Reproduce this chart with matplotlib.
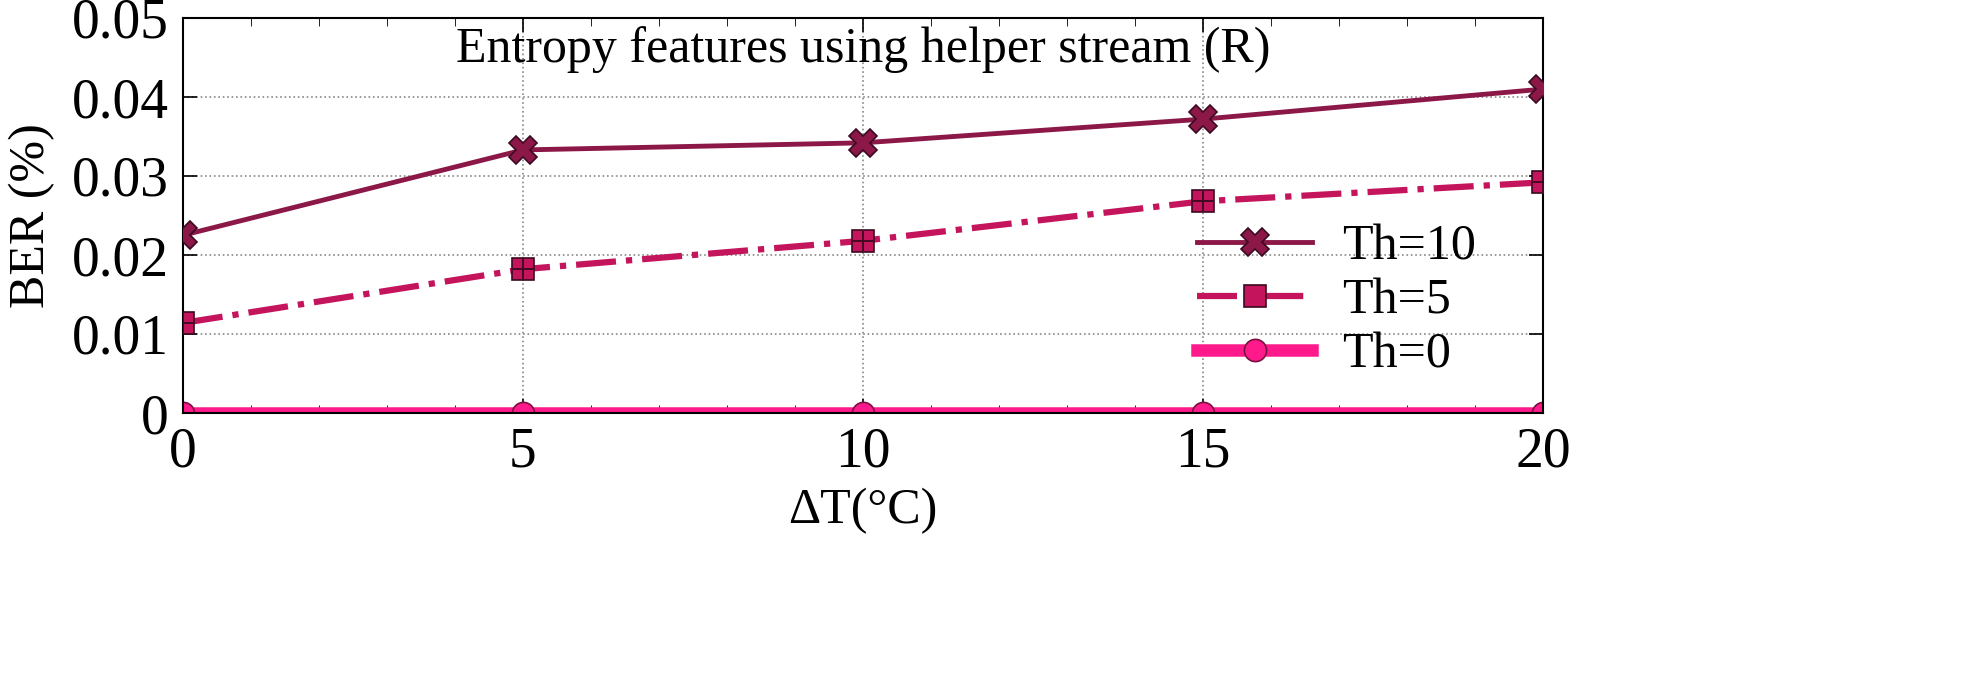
import matplotlib
matplotlib.use("Agg")
import matplotlib.pyplot as plt
from matplotlib.ticker import MultipleLocator

plt.rcParams['font.family'] = ['Liberation Serif', 'DejaVu Serif']

dT = [0, 5, 10, 15, 20]
th10 = [0.0225, 0.0333, 0.0342, 0.0372, 0.0410]
th5 = [0.0114, 0.0182, 0.0218, 0.0268, 0.0292]
th0 = [0, 0, 0, 0, 0]

fig = plt.figure(figsize=(19.78, 6.87), dpi=100)
ax = fig.add_axes([183/1978, 1-413/687, (1543-183)/1978, (413-18)/687])

ax.plot(dT, th0, '-', color='#ff1a8c', lw=9, marker='o', ms=16, mfc='#ff1a8c', mec='#7a1040', mew=1.2, label='Th=0', zorder=2)
ax.plot(dT, th5, '-.', color='#c4145c', lw=4.5, marker='s', ms=16, mfc='#c4145c', mec='#3a0a20', mew=1.2, label='Th=5', zorder=3)
ax.plot(dT, th10, '-', color='#8c1848', lw=3.5, marker='X', ms=20, mfc='#8c1848', mec='#3a0a20', mew=1.2, label='Th=10', zorder=4)
ax.plot(dT, th5, ls='none', marker='+', ms=14, mec='#3a0a20', mew=1.3, zorder=5)

ax.set_xlim(0, 20)
ax.set_ylim(0, 0.05)
ax.set_xticks(dT)
ax.set_yticks([0, 0.01, 0.02, 0.03, 0.04, 0.05])
ax.set_yticklabels(['0', '0.01', '0.02', '0.03', '0.04', '0.05'])
ax.xaxis.set_minor_locator(MultipleLocator(1))
ax.tick_params(axis='both', which='major', labelsize=40, direction='in', length=10, width=1.2, top=True, right=True, pad=10)
ax.tick_params(axis='x', which='minor', direction='in', length=6, top=True)
ax.grid(True, which='major', ls=':', color='#888888', lw=1.2)
for s in ax.spines.values():
    s.set_linewidth(1.5)

ax.set_xlabel('ΔT(°C)', fontsize=36, labelpad=6)
ax.set_ylabel('BER (%)', fontsize=36, labelpad=12)
ax.text(0.5, 0.92, 'Entropy features using helper stream (R)', transform=ax.transAxes,
        ha='center', va='center', fontsize=36, zorder=6)

h, l = ax.get_legend_handles_labels()
leg = ax.legend([h[2], h[1], h[0]], ['Th=10', 'Th=5', 'Th=0'], loc='lower left',
                bbox_to_anchor=(0.72, 0.0), fontsize=36, frameon=False, handlelength=2.3,
                handletextpad=0.6, labelspacing=0.15, borderpad=0.2)
fig.savefig('out.png', dpi=100)
